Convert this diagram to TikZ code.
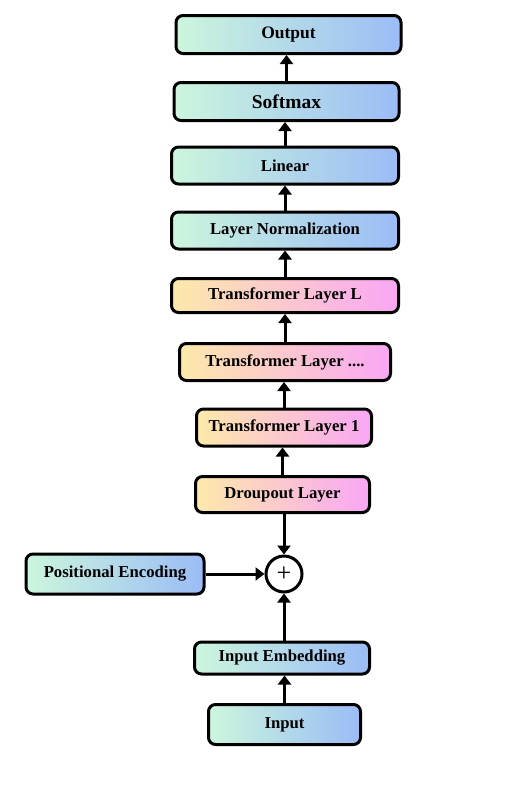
\documentclass[tikz,border=0pt]{standalone}
\usepackage{fontspec}
\setmainfont{Liberation Serif}
\usetikzlibrary{arrows.meta}
\definecolor{mintl}{RGB}{204,246,221}
\definecolor{bluer}{RGB}{155,188,246}
\definecolor{yellowl}{RGB}{253,233,170}
\definecolor{pinkr}{RGB}{249,166,245}

\begin{document}
\begin{tikzpicture}[x=1pt,y=-1pt,
  blk/.style={draw,line width=3pt,rounded corners=7pt,inner sep=0pt,
    font=\fontsize{16.7}{20}\selectfont\bfseries},
  cool/.style={blk,left color=mintl,right color=bluer},
  warm/.style={blk,left color=yellowl,right color=pinkr},
  arr/.style={line width=3pt,-{Triangle[length=9pt,width=13pt]}}]
  \useasboundingbox (0,0) rectangle (514,788);
  % top part of the stack
  \node[cool,minimum width=225pt,minimum height=38pt,font=\fontsize{17.5}{21}\selectfont\bfseries] (out) at (288.5,34.5) {Output};
  \node[cool,minimum width=225pt,minimum height=38pt,font=\fontsize{19.5}{23}\selectfont\bfseries] (soft) at (286.5,101.5) {Softmax};
  \node[cool,minimum width=227pt,minimum height=37pt] (lin) at (285,165.5) {Linear};
  \node[cool,minimum width=227pt,minimum height=37pt] (norm) at (285,230.5) {Layer Normalization};
  % transformer layers
  \node[warm,minimum width=227pt,minimum height=34pt] (tlL) at (285,295.5) {Transformer Layer L};
  \node[warm,minimum width=211pt,minimum height=37pt] (tlx) at (285,362) {Transformer Layer ....};
  \node[warm,minimum width=175pt,minimum height=37pt] (tl1) at (284,427.5) {Transformer Layer 1};
  \node[warm,minimum width=174pt,minimum height=36pt] (drop) at (282.5,494.5) {Droupout Layer};
  % input side
  \node[draw,circle,line width=3pt,fill=white,minimum size=36pt,inner sep=0pt,
    font=\fontsize{26}{26}\selectfont] (add) at (284,574) {+};
  \node[cool,minimum width=178pt,minimum height=40pt] (pos) at (115,574) {Positional Encoding};
  \node[cool,minimum width=175pt,minimum height=32pt] (emb) at (282,658) {Input Embedding};
  \node[cool,minimum width=152pt,minimum height=40pt] (inp) at (284.5,724.5) {Input};

  \draw[arr] (inp.north) -- (inp.north |- emb.south);
  \draw[arr] (emb.north -| add) -- (add.south);
  \draw[arr] (pos.east) -- (add.west);
  \draw[arr] (drop.south -| add) -- (add.north);
  \draw[arr] (drop.north) -- (drop.north |- tl1.south);
  \draw[arr] (tl1.north) -- (tl1.north |- tlx.south);
  \draw[arr] (tlx.north) -- (tlx.north |- tlL.south);
  \draw[arr] (tlL.north) -- (tlL.north |- norm.south);
  \draw[arr] (norm.north) -- (norm.north |- lin.south);
  \draw[arr] (lin.north) -- (lin.north |- soft.south);
  \draw[arr] (soft.north) -- (soft.north |- out.south);
\end{tikzpicture}
\end{document}
